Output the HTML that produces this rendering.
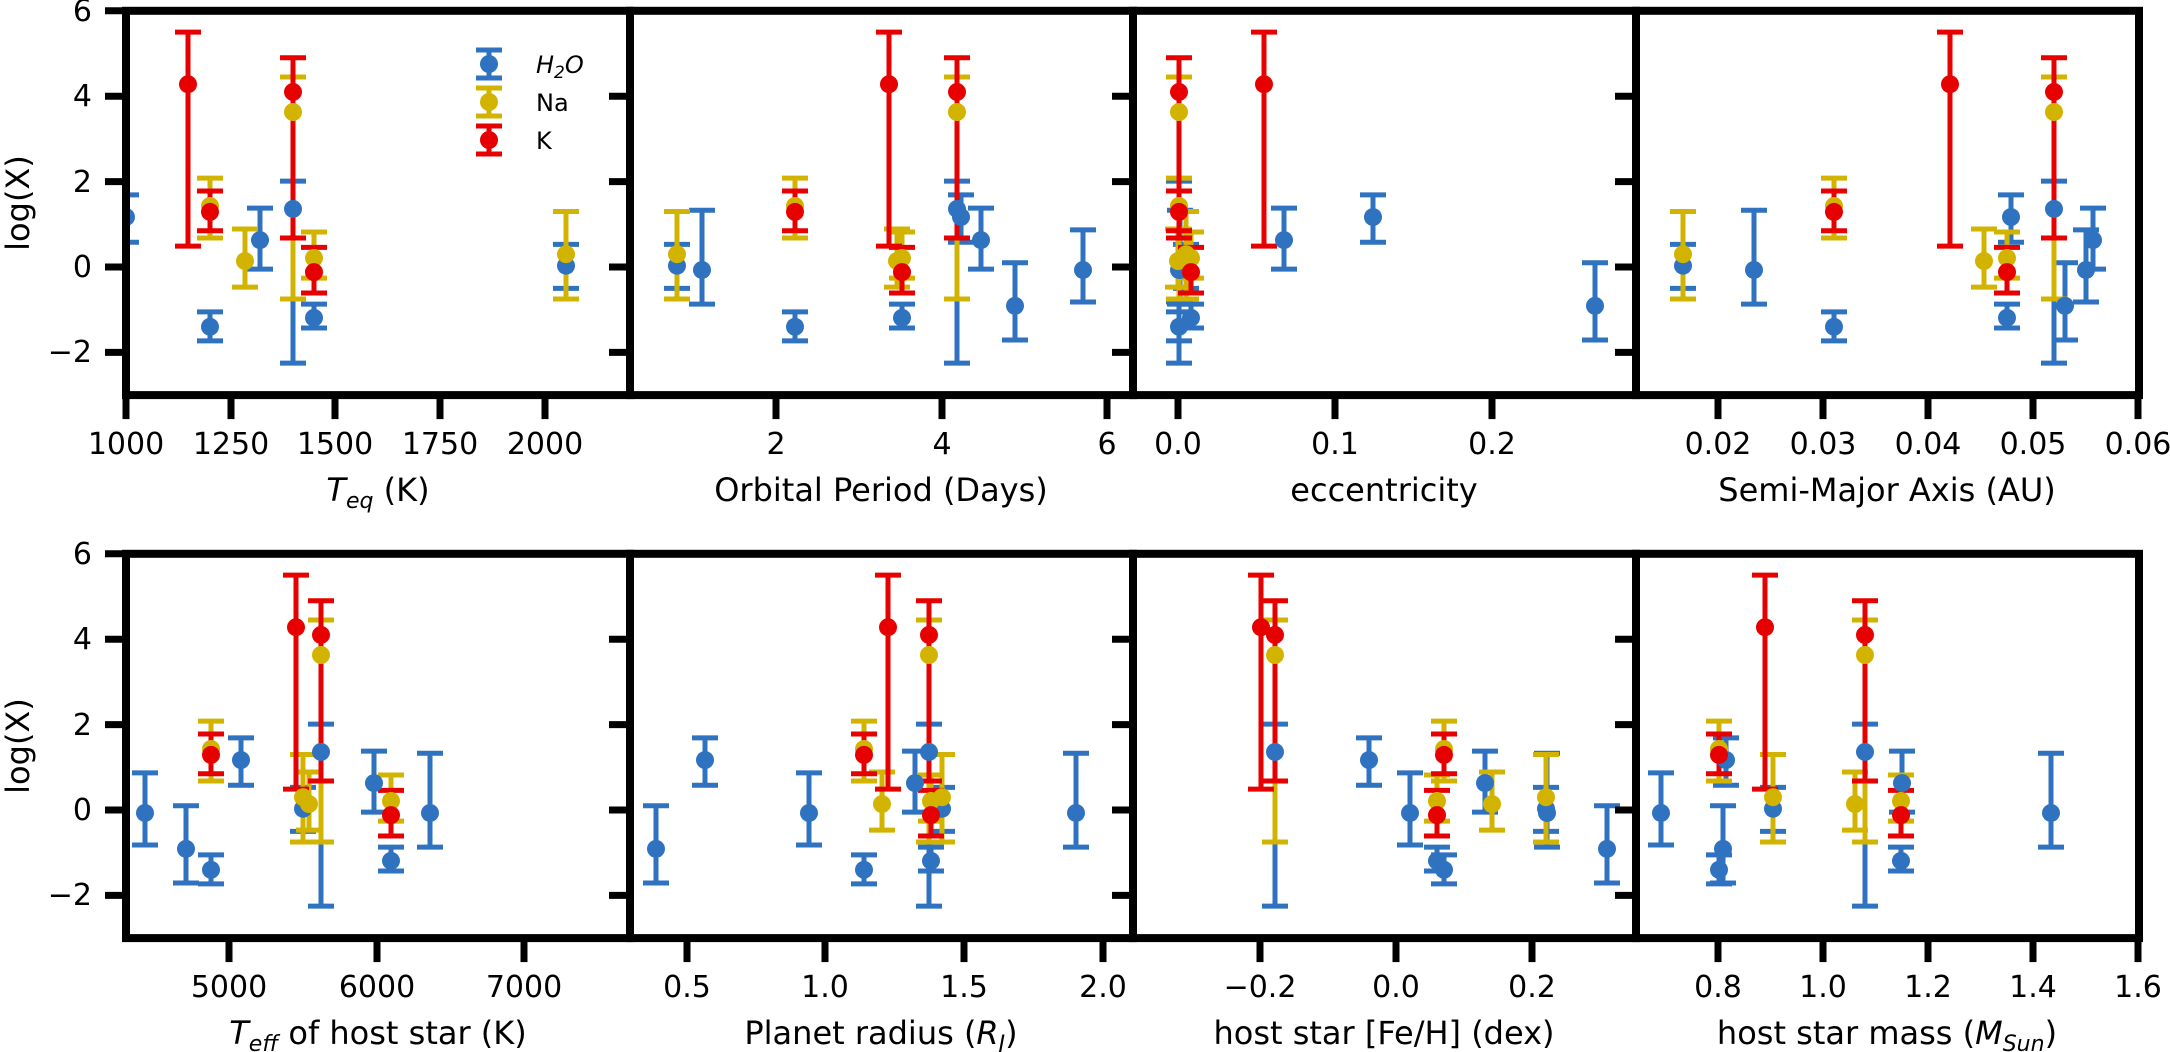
<!DOCTYPE html>
<html><head><meta charset="utf-8">
<style>
html,body{margin:0;padding:0;background:#fff;}
svg{display:block;}
text{font-family:"DejaVu Sans","Liberation Sans",sans-serif;fill:#000;}
.tl{font-size:30px;}
.al{font-size:32px;}
.lg{font-size:24px;}
</style></head>
<body>
<svg id="s" width="2170" height="1052" viewBox="0 0 2170 1052" xmlns="http://www.w3.org/2000/svg">
<defs id="defs"></defs>
<g id="data"></g>
<g id="axes"></g>
<g id="txt">
<text class="tl" x="92" y="21" text-anchor="end">6</text>
<text class="tl" x="92" y="106" text-anchor="end">4</text>
<text class="tl" x="92" y="192" text-anchor="end">2</text>
<text class="tl" x="92" y="277" text-anchor="end">0</text>
<text class="tl" x="92" y="362" text-anchor="end">−2</text>
<text class="tl" x="92" y="564" text-anchor="end">6</text>
<text class="tl" x="92" y="649" text-anchor="end">4</text>
<text class="tl" x="92" y="735" text-anchor="end">2</text>
<text class="tl" x="92" y="820" text-anchor="end">0</text>
<text class="tl" x="92" y="905" text-anchor="end">−2</text>
<text class="al" transform="translate(29,203) rotate(-90)" text-anchor="middle">log(X)</text>
<text class="al" transform="translate(29,746) rotate(-90)" text-anchor="middle">log(X)</text>
<g class="tl" text-anchor="middle">
<text x="126" y="454">1000</text><text x="231" y="454">1250</text><text x="335" y="454">1500</text><text x="440" y="454">1750</text><text x="545" y="454">2000</text>
<text x="776" y="454">2</text><text x="942" y="454">4</text><text x="1107" y="454">6</text>
<text x="1178" y="454">0.0</text><text x="1335" y="454">0.1</text><text x="1492" y="454">0.2</text>
<text x="1718" y="454">0.02</text><text x="1823" y="454">0.03</text><text x="1928" y="454">0.04</text><text x="2033" y="454">0.05</text><text x="2138" y="454">0.06</text>
<text x="229" y="997">5000</text><text x="377" y="997">6000</text><text x="524" y="997">7000</text>
<text x="687" y="997">0.5</text><text x="825" y="997">1.0</text><text x="964" y="997">1.5</text><text x="1103" y="997">2.0</text>
<text x="1260" y="997">−0.2</text><text x="1396" y="997">0.0</text><text x="1532" y="997">0.2</text>
<text x="1718" y="997">0.8</text><text x="1823" y="997">1.0</text><text x="1928" y="997">1.2</text><text x="2033" y="997">1.4</text><text x="2138" y="997">1.6</text>
</g>
<g class="al" text-anchor="middle">
<text x="378" y="501"><tspan font-style="italic">T</tspan><tspan font-style="italic" font-size="22" dy="7">eq</tspan><tspan dy="-7"> (K)</tspan></text>
<text x="881" y="501">Orbital Period (Days)</text>
<text x="1384" y="501">eccentricity</text>
<text x="1887" y="501">Semi-Major Axis (AU)</text>
<text x="378" y="1044"><tspan font-style="italic">T</tspan><tspan font-style="italic" font-size="22" dy="7">eff</tspan><tspan dy="-7"> of host star (K)</tspan></text>
<text x="881" y="1044">Planet radius (<tspan font-style="italic">R</tspan><tspan font-style="italic" font-size="22" dy="7">J</tspan><tspan dy="-7">)</tspan></text>
<text x="1384" y="1044">host star [Fe/H] (dex)</text>
<text x="1887" y="1044">host star mass (<tspan font-style="italic">M</tspan><tspan font-style="italic" font-size="22" dy="7">Sun</tspan><tspan dy="-7">)</tspan></text>
</g>
<g class="lg">
<text x="536" y="73"><tspan font-style="italic">H</tspan><tspan font-style="italic" font-size="17" dy="5">2</tspan><tspan font-style="italic" dy="-5">O</tspan></text>
<text x="536" y="111">Na</text>
<text x="536" y="149">K</text>
</g>
</g>
</svg>
<script>
var NS="http://www.w3.org/2000/svg";
function el(p,t,a){var e=document.createElementNS(NS,t);for(var k in a)e.setAttribute(k,a[k]);p.appendChild(e);return e;}
var C={h:"#2f72c0",n:"#d2b400",k:"#e60000"};
var P={
A:{h:[1.17,0.58,1.69]},
B:{h:[-1.4,-1.73,-1.05],n:[1.43,0.68,2.08],k:[1.29,0.85,1.78]},
C:{h:[0.63,-0.05,1.38]},
D:{n:[0.14,-0.47,0.89]},
E:{h:[1.36,-2.25,2.01],n:[3.63,-0.75,4.45],k:[4.1,0.68,4.9]},
F:{h:[-1.19,-1.43,-0.87],n:[0.21,-0.26,0.82],k:[-0.12,-0.61,0.46]},
G:{h:[0.03,-0.5,0.53],n:[0.3,-0.75,1.3]},
H:{k:[4.28,0.49,5.5]},
I:{h:[-0.91,-1.71,0.1]},
J:{h:[-0.07,-0.82,0.87]},
K:{h:[-0.07,-0.87,1.33]}
};
var panels=[
{x:126,r:0,pos:{A:0,B:84,C:134,D:119,E:167,F:188,G:440,H:62}},
{x:630,r:0,pos:{G:47,K:72,B:165,H:259,D:267,F:272,E:327,A:331,C:351,I:385,J:453}},
{x:1133,r:0,pos:{B:46,E:46,D:45,J:46,K:47,G:53,F:58,H:131,C:151,A:240,I:462}},
{x:1636,r:0,pos:{G:47,K:118,B:198,H:314,D:348,F:371,A:375,E:418,I:429,J:450,C:457}},
{x:126,r:1,pos:{J:19,I:60,B:85,A:115,H:170,G:177,D:183,E:195,C:248,F:265,K:304}},
{x:630,r:1,pos:{I:26,A:75,J:179,B:234,D:252,H:258,C:285,E:299,F:301,G:312,K:446}},
{x:1133,r:1,pos:{H:128,E:142,A:236,J:277,F:304,B:311,C:352,D:359,G:413,K:414,I:474}},
{x:1636,r:1,pos:{J:25,B:83,I:87,A:90,H:129,G:137,D:219,E:229,F:265,C:266,K:415}}
];
var W=[504,503,503,503,504,503,503,503];
var defs=document.getElementById("defs"),data=document.getElementById("data"),axes=document.getElementById("axes");
var S=42.7;
panels.forEach(function(p,i){
  var y0=p.r?810:267, top=y0-6*S, bot=y0+3*S, w=W[i];
  var cp=el(defs,"clipPath",{id:"c"+i});el(cp,"rect",{x:p.x,y:top,width:w,height:bot-top});
  var g=el(data,"g",{"clip-path":"url(#c"+i+")"});
  var gb=el(g,"g",{}),gm=el(g,"g",{});
  ["h","n","k"].forEach(function(s){
    for(var k in p.pos){var d=P[k][s];if(!d)continue;var x=p.x+p.pos[k];
      var ylo=y0-d[1]*S,yhi=y0-d[2]*S;
      el(gb,"line",{x1:x,x2:x,y1:ylo,y2:yhi,stroke:C[s],"stroke-width":5});
      el(gb,"line",{x1:x-13,x2:x+13,y1:ylo,y2:ylo,stroke:C[s],"stroke-width":5});
      el(gb,"line",{x1:x-13,x2:x+13,y1:yhi,y2:yhi,stroke:C[s],"stroke-width":5});
    }
  });
  ["h","n","k"].forEach(function(s){
    for(var k in p.pos){var d=P[k][s];if(!d)continue;
      el(gm,"circle",{cx:p.x+p.pos[k],cy:y0-d[0]*S,r:9,fill:C[s]});}
  });
  for(var v=-2;v<=6;v+=2){var yy=y0-v*S;el(axes,"line",{x1:p.x-21,x2:p.x,y1:yy,y2:yy,stroke:"#000","stroke-width":7});}
  el(axes,"rect",{x:p.x,y:top,width:w,height:bot-top,fill:"none",stroke:"#000","stroke-width":8});
});
var xt=[[126,231,335,440,545],[776,942,1107],[1178,1335,1492],[1718,1823,1928,2033,2138],[229,377,524],[687,825,964,1103],[1260,1396,1532],[1718,1823,1928,2033,2138]];
xt.forEach(function(a,i){var yb=(i<4?267:810)+3*S;a.forEach(function(x){el(axes,"line",{x1:x,x2:x,y1:yb,y2:yb+24,stroke:"#000","stroke-width":7});});});
var lg=[["h",64],["n",102],["k",140]];
lg.forEach(function(l){var x=489,y=l[1],c=C[l[0]];
  el(axes,"line",{x1:x,x2:x,y1:y-14,y2:y+14,stroke:c,"stroke-width":5});
  el(axes,"line",{x1:x-13,x2:x+13,y1:y-14,y2:y-14,stroke:c,"stroke-width":5});
  el(axes,"line",{x1:x-13,x2:x+13,y1:y+14,y2:y+14,stroke:c,"stroke-width":5});
  el(axes,"circle",{cx:x,cy:y,r:9,fill:c});});
</script>
</body></html>
